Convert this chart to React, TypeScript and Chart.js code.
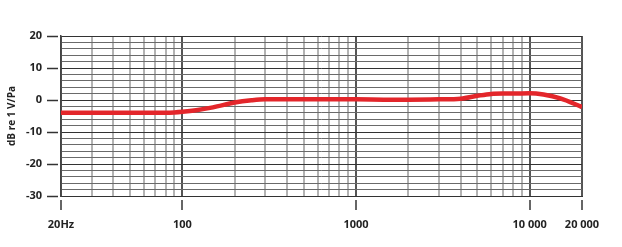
import React, { useEffect, useRef } from "react";
import { Chart, registerables } from "chart.js";

Chart.register(...registerables);

const freqs = [20, 30, 40, 50, 60, 70, 80, 90, 100, 120, 150, 200, 250, 300, 400, 500, 700, 1000, 1500, 2000, 3000, 4000, 5000, 6000, 7000, 8000, 10000, 12000, 15000, 20000];
const levels = [-4, -4, -4, -4, -4, -4, -4, -3.9, -3.7, -3.2, -2.3, -0.8, -0.1, 0.2, 0.2, 0.2, 0.2, 0.2, 0.1, 0.1, 0.2, 0.4, 1.3, 1.9, 2, 2, 2.1, 1.7, 0.5, -2.2];

const gridFreqs = [20, 30, 40, 50, 60, 70, 80, 90, 100, 200, 300, 400, 500, 600, 700, 800, 900, 1000, 2000, 3000, 4000, 5000, 6000, 7000, 8000, 9000, 10000, 20000];
const majorFreqs = [20, 100, 1000, 10000, 20000];
const xLabels: Record<number, string> = { 20: "20Hz", 100: "100", 1000: "1000", 10000: "10 000", 20000: "20 000" };
const yMajor = [-30, -20, -10, 0, 10, 20];

const FONT = "'Open Sans', 'DejaVu Sans', sans-serif";

const tickPlugin = {
  id: "tickDashes",
  afterDraw(chart: any) {
    const { ctx, chartArea, scales } = chart;
    ctx.save();
    ctx.strokeStyle = "#333";
    ctx.lineWidth = 1.5;
    for (const v of yMajor) {
      const y = Math.round(scales.y.getPixelForValue(v)) + 0.5;
      ctx.beginPath();
      ctx.moveTo(chartArea.left - 14, y);
      ctx.lineTo(chartArea.left - 3, y);
      ctx.stroke();
    }
    ctx.strokeStyle = "#666";
    ctx.lineWidth = 2;
    for (const v of majorFreqs) {
      const x = Math.round(scales.x.getPixelForValue(v));
      ctx.beginPath();
      ctx.moveTo(x, chartArea.bottom + 4);
      ctx.lineTo(x, chartArea.bottom + 14);
      ctx.stroke();
    }
    ctx.restore();
  },
};

export default function App() {
  const ref = useRef<HTMLCanvasElement>(null);
  useEffect(() => {
    if (!ref.current) return;
    const chart = new Chart(ref.current, {
      type: "line",
      data: {
        datasets: [
          {
            data: freqs.map((f, i) => ({ x: f, y: levels[i] })),
            borderColor: "#e3262b",
            borderWidth: 4.5,
            pointRadius: 0,
            cubicInterpolationMode: "monotone",
            fill: false,
          },
        ],
      },
      options: {
        animation: false,
        responsive: false,
        layout: { padding: { top: 36, right: 40, left: 0, bottom: 0 } },
        plugins: { legend: { display: false }, tooltip: { enabled: false } },
        scales: {
          x: {
            type: "logarithmic",
            min: 20,
            max: 20000,
            afterBuildTicks: (scale: any) => {
              scale.ticks = gridFreqs.map((v) => ({ value: v }));
            },
            afterFit: (scale: any) => {
              scale.height = 51;
            },
            grid: {
              drawTicks: false,
              color: (c: any) => (majorFreqs.includes(c.tick?.value) ? "#555" : "#b3b3b3"),
              lineWidth: 2,
            },
            border: { display: true, color: "#333", width: 1 },
            ticks: {
              autoSkip: false,
              maxRotation: 0,
              padding: 22,
              color: "#222",
              font: { family: FONT, size: 11, weight: "bold" },
              callback: (v: any) => xLabels[Number(v)] ?? "",
            },
          },
          y: {
            min: -30,
            max: 20,
            afterFit: (scale: any) => {
              scale.width = 61;
            },
            grid: {
              drawTicks: false,
              color: (c: any) => (c.tick && c.tick.value % 10 === 0 ? "#333" : "#6a6a6a"),
              lineWidth: 1,
            },
            border: { display: true, color: "#444", width: 1.5 },
            ticks: {
              stepSize: 2,
              autoSkip: false,
              padding: 19,
              color: "#222",
              font: { family: FONT, size: 11, weight: "bold" },
              callback: (v: any) => (Number(v) % 10 === 0 ? String(v) : ""),
            },
            title: {
              display: true,
              text: "dB re 1 V/Pa",
              color: "#222",
              font: { family: FONT, size: 10, weight: "bold" },
              padding: { top: 6, bottom: 0 },
            },
          },
        },
      },
      plugins: [tickPlugin],
    } as any);
    return () => chart.destroy();
  }, []);
  return (
    <div style={{ position: "fixed", left: 0, top: 0, width: 622, height: 247, background: "#fff" }}>
      <canvas ref={ref} width={622} height={247} />
    </div>
  );
}
